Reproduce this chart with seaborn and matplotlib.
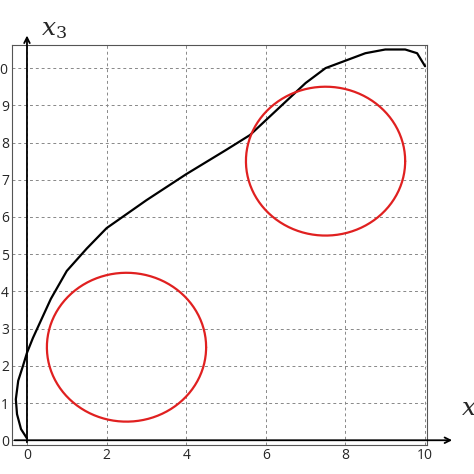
import numpy as np
import matplotlib
matplotlib.use('Agg')
import matplotlib.pyplot as plt
import seaborn as sns

sns.set_style('white')
plt.rcParams['font.family'] = ['Open Sans', 'DejaVu Sans']
plt.rcParams['mathtext.fontset'] = 'dejavuserif'

# curve
curve_x = [0.0, -0.15, -0.25, -0.28, -0.22, -0.1, 0.0, 0.15, 0.3, 0.6, 1.0, 1.5, 2.0, 3.0, 4.0, 5.0, 5.6, 6.0, 6.5, 7.0, 7.5, 8.0, 8.5, 9.0, 9.5, 9.8, 10.0]
curve_y = [0.05, 0.3, 0.7, 1.1, 1.6, 2.0, 2.35, 2.75, 3.1, 3.8, 4.55, 5.15, 5.7, 6.45, 7.15, 7.8, 8.2, 8.6, 9.1, 9.6, 10.0, 10.2, 10.4, 10.5, 10.5, 10.4, 10.05]
circle_cx = [2.5, 7.5]
circle_cy = [2.5, 7.5]
circle_r = [2.0, 2.0]
x_ticks = [0, 2, 4, 6, 8, 10]
y_ticks = list(range(0, 11))

fig = plt.figure(figsize=(4.74, 4.74), dpi=100)
ax = fig.add_axes([0.025, 0.061, 0.876, 0.844])

ax.plot(curve_x, curve_y, color='black', lw=1.6)
t = np.linspace(0, 2 * np.pi, 200)
for cx, cy, r in zip(circle_cx, circle_cy, circle_r):
    ax.plot(cx + r * np.cos(t), cy + r * np.sin(t), color='#e02020', lw=1.6)

ax.set_xlim(-0.38, 10.05)
ax.set_ylim(-0.13, 10.62)
ax.set_xticks(x_ticks)
ax.set_yticks(y_ticks)
ax.grid(True, ls=(0, (3, 3)), color='#888888', lw=0.7)
for s in ax.spines.values():
    s.set_color('#555555')
    s.set_linewidth(0.8)
ax.tick_params(labelsize=10, length=0, pad=2)

# coordinate arrows
ax.annotate('', xy=(0, 10.95), xytext=(0, -0.13), annotation_clip=False,
            arrowprops=dict(arrowstyle='->', color='black', lw=1.3))
ax.annotate('', xy=(10.75, 0), xytext=(-0.38, 0), annotation_clip=False,
            arrowprops=dict(arrowstyle='->', color='black', lw=1.3))
ax.text(0.35, 11.05, '$x_3$', fontsize=18, ha='left', va='center', clip_on=False)
ax.text(10.9, 0.85, '$x_1$', fontsize=18, ha='left', va='center', clip_on=False)

fig.savefig('out.png', dpi=100)
